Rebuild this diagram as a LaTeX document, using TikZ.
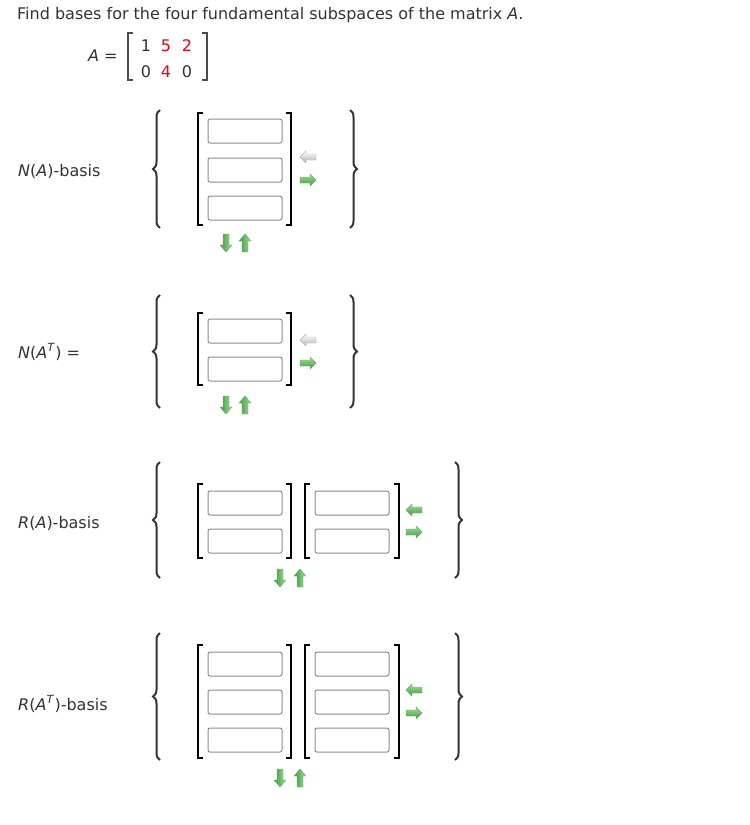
\documentclass[tikz,border=0pt]{standalone}
\usepackage{fontspec}
\setmainfont{DejaVu Sans}
\usetikzlibrary{decorations.pathreplacing}
\definecolor{txt}{HTML}{333333}
\definecolor{ared}{HTML}{E8001C}
\definecolor{gdark}{HTML}{3E9A3E}
\definecolor{glight}{HTML}{A8DCA0}
\tikzset{
  lbl/.style={anchor=base west,font=\fontsize{16}{19}\selectfont,text=txt,inner sep=0},
  ansbox/.style={draw=black!45,rounded corners=2pt,minimum width=74,minimum height=24,inner sep=0,line width=1pt},
  brk/.style={line width=1.2pt,black},
  brc/.style={decorate,decoration={brace,amplitude=7pt},line width=2pt,black!80},
  garrow/.style={top color=glight,bottom color=gdark,draw=gdark!80,line width=0.4pt},
  vgarrow/.style={left color=gdark,right color=glight,draw=gdark!80,line width=0.4pt},
  grayarrow/.style={top color=white,bottom color=black!30,draw=black!30,line width=0.4pt},
}
\newcommand{\rarr}[3]{\path[#3] (#1-8,#2-3) -- (#1+2,#2-3) -- (#1+2,#2-6) -- (#1+8,#2) -- (#1+2,#2+6) -- (#1+2,#2+3) -- (#1-8,#2+3) -- cycle;}
\newcommand{\larr}[3]{\path[#3] (#1+8,#2-3) -- (#1-2,#2-3) -- (#1-2,#2-6) -- (#1-8,#2) -- (#1-2,#2+6) -- (#1-2,#2+3) -- (#1+8,#2+3) -- cycle;}
\newcommand{\darr}[2]{\path[vgarrow] (#1-3,#2-9) -- (#1+3,#2-9) -- (#1+3,#2+2) -- (#1+6,#2+2) -- (#1,#2+9) -- (#1-6,#2+2) -- (#1-3,#2+2) -- cycle;}
\newcommand{\uarr}[2]{\path[vgarrow] (#1-3,#2+9) -- (#1+3,#2+9) -- (#1+3,#2-2) -- (#1+6,#2-2) -- (#1,#2-9) -- (#1-6,#2-2) -- (#1-3,#2-2) -- cycle;}
\newcommand{\bracks}[4]{%
  \draw[brk] (#1+5,#3) -- (#1,#3) -- (#1,#4) -- (#1+5,#4);
  \draw[brk] (#2-5,#3) -- (#2,#3) -- (#2,#4) -- (#2-5,#4);}
\begin{document}
\begin{tikzpicture}[x=1pt,y=-1pt]
\path[use as bounding box,fill=white] (0,0) rectangle (750,825);
\node[lbl] (title) at (17,19) {Find bases for the four fundamental subspaces of the matrix \textit{A}.};
\node[lbl] (Aeq) at (88,61) {\textit{A} =};
\draw[brk,black!70] (133,33) -- (128,33) -- (128,80) -- (133,80);
\draw[brk,black!70] (202,33) -- (207,33) -- (207,80) -- (202,80);
\node[lbl,anchor=base] (a11) at (146,51) {1};
\node[lbl,anchor=base,text=ared] (a12) at (166,51) {5};
\node[lbl,anchor=base,text=ared] (a13) at (187,51) {2};
\node[lbl,anchor=base] (a21) at (146,77) {0};
\node[lbl,anchor=base,text=ared] (a22) at (166,77) {4};
\node[lbl,anchor=base] (a23) at (187,77) {0};

\node[lbl] (l1) at (18,176) {\textit{N}(\textit{A})-basis};
\draw[brc] (160,228) -- (160,110);
\draw[brc] (350,110) -- (350,228);
\bracks{198}{291}{113}{225}
\node[ansbox] (b11) at (245,131) {};
\node[ansbox] (b12) at (245,170) {};
\node[ansbox] (b13) at (245,208) {};
\larr{308}{157}{grayarrow}
\rarr{308}{180}{garrow}
\darr{226}{243}
\uarr{245}{243}

\node[lbl] (l2) at (18,358) {\textit{N}(\textit{A}\textsuperscript{\textit{T}}) =};
\draw[brc] (160,408) -- (160,295);
\draw[brc] (350,295) -- (350,408);
\bracks{198}{291}{313}{385}
\node[ansbox] (b21) at (245,331) {};
\node[ansbox] (b22) at (245,369) {};
\larr{308}{340}{grayarrow}
\rarr{308}{363}{garrow}
\darr{226}{405}
\uarr{245}{405}

\node[lbl] (l3) at (18,528) {\textit{R}(\textit{A})-basis};
\draw[brc] (160,578) -- (160,462);
\draw[brc] (455,462) -- (455,578);
\bracks{198}{291}{484}{558}
\bracks{305}{399}{484}{558}
\node[ansbox] (b31) at (245,503) {};
\node[ansbox] (b32) at (245,541) {};
\node[ansbox] (b33) at (352,503) {};
\node[ansbox] (b34) at (352,541) {};
\larr{414}{510}{garrow}
\rarr{414}{532}{garrow}
\darr{280}{578}
\uarr{300}{578}

\node[lbl] (l4) at (18,710) {\textit{R}(\textit{A}\textsuperscript{\textit{T}})-basis};
\draw[brc] (160,760) -- (160,633);
\draw[brc] (455,633) -- (455,760);
\bracks{198}{291}{645}{758}
\bracks{305}{399}{645}{758}
\node[ansbox] (b41) at (245,664) {};
\node[ansbox] (b42) at (245,702) {};
\node[ansbox] (b43) at (245,740) {};
\node[ansbox] (b44) at (352,664) {};
\node[ansbox] (b45) at (352,702) {};
\node[ansbox] (b46) at (352,740) {};
\larr{414}{690}{garrow}
\rarr{414}{713}{garrow}
\darr{280}{778}
\uarr{300}{778}
\end{tikzpicture}
\end{document}
